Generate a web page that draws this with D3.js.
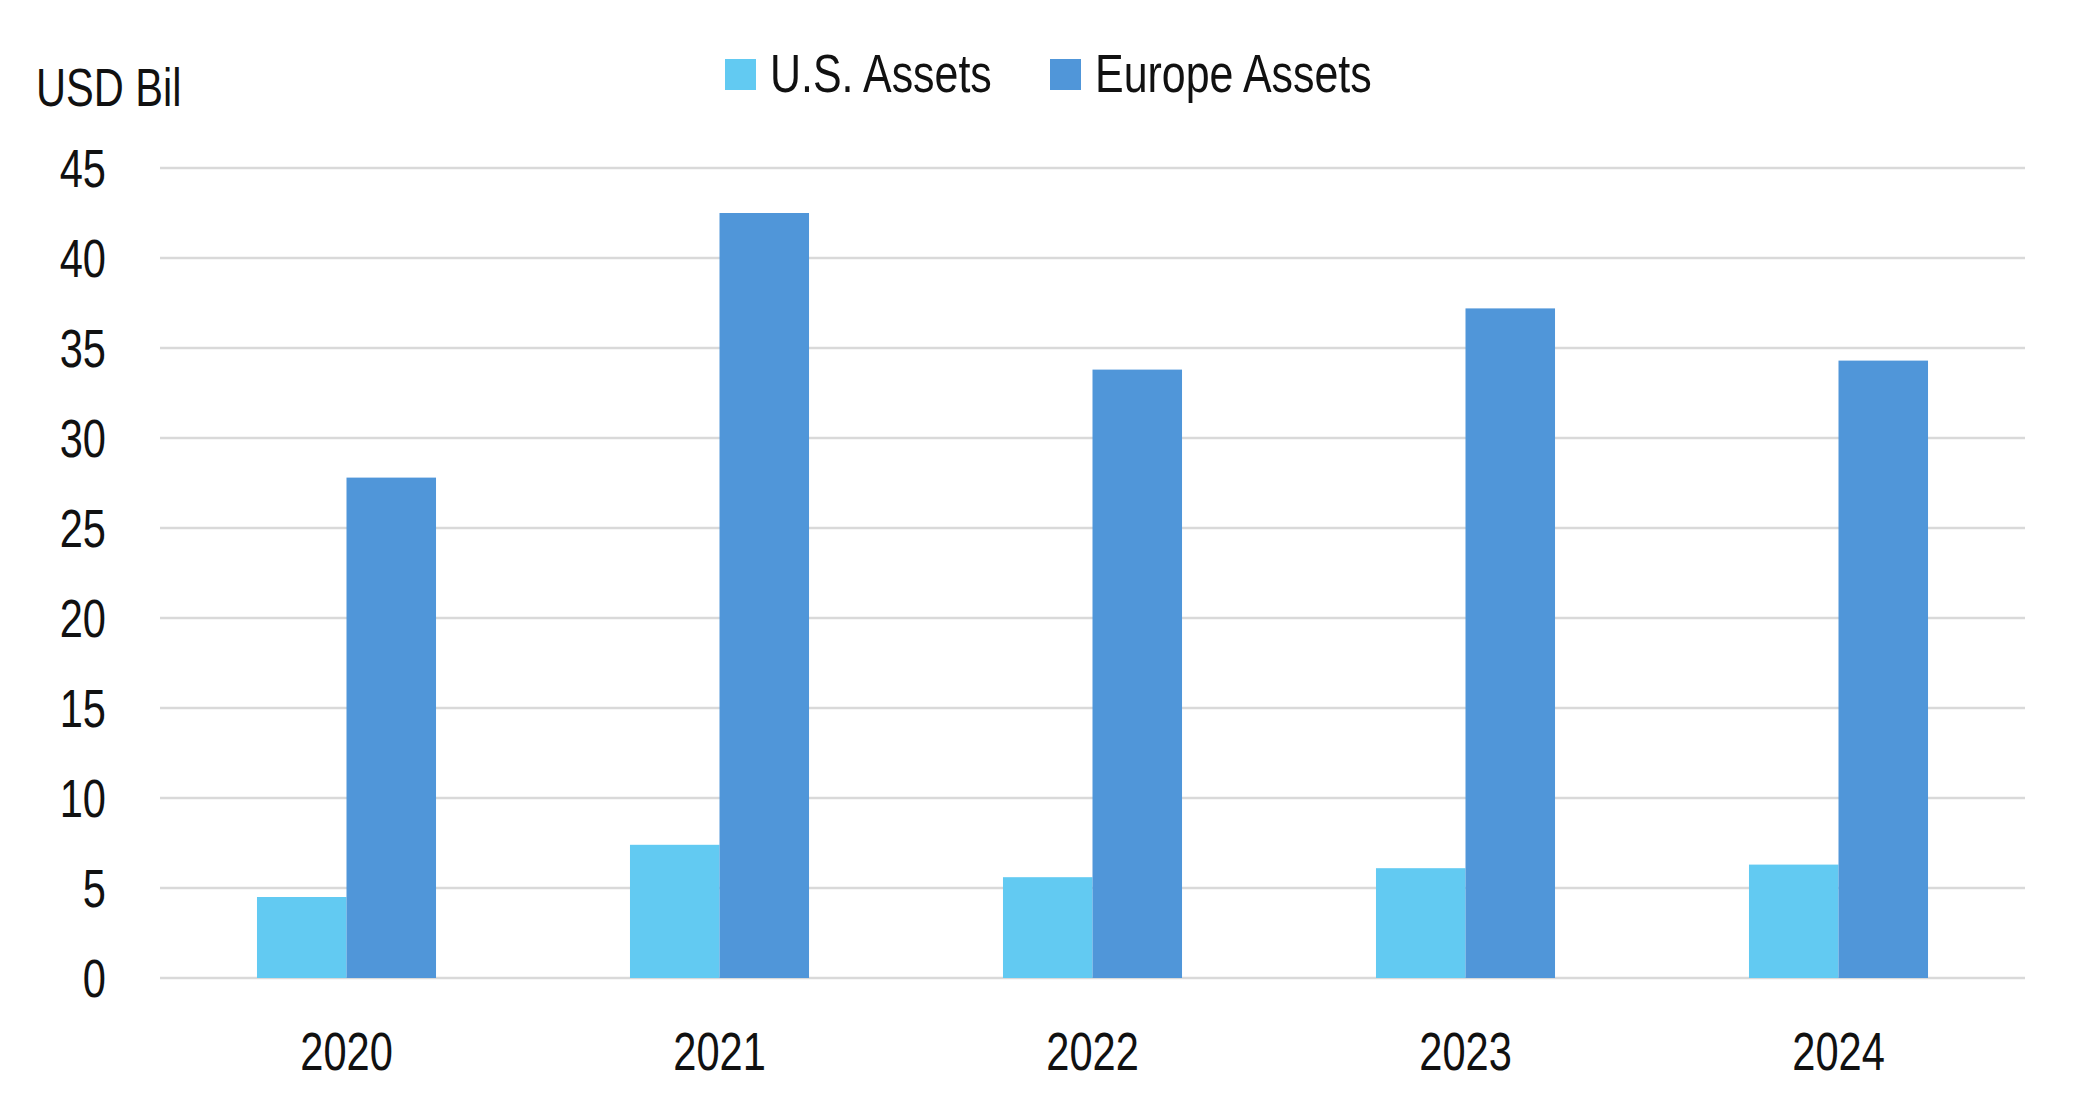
<!DOCTYPE html>
<html>
<head>
<meta charset="utf-8">
<script src="https://cdn.jsdelivr.net/npm/d3@7"></script>
<style>
  body { margin: 0; background: #fff; }
  text { font-family: "Liberation Sans", Arial, sans-serif; fill: #111; }
</style>
</head>
<body>
<svg id="chart" width="2079" height="1105"></svg>
<script>
// Assets by year, USD Bil

var years = ["2020", "2021", "2022", "2023", "2024"];
var usAssets = [4.5, 7.4, 5.6, 6.1, 6.3];
var europeAssets = [27.8, 42.5, 33.8, 37.2, 34.3];
var seriesNames = ["U.S. Assets", "Europe Assets"];
var seriesColors = ["#62caf2", "#5096d9"];
var yTicks = [0, 5, 10, 15, 20, 25, 30, 35, 40, 45];

var svg = d3.select("#chart");
var plotLeft = 160, plotRight = 2025, plotTop = 168, plotBottom = 978;
var squeeze = 0.77; // condensed look for the text

var x = d3.scaleBand().domain(years).range([plotLeft, plotRight]);
var x1 = d3.scaleBand()
  .domain(seriesNames)
  .range([0, x.bandwidth() * 0.48]);
var y = d3.scaleLinear().domain([0, 45]).range([plotBottom, plotTop]);

function place(px, py, s) {
  return "translate(" + px + "," + py + ") scale(" + (s || squeeze) + ",1)";
}

// gridlines
svg.append("g")
  .selectAll("line")
  .data(yTicks)
  .enter()
  .append("line")
  .attr("x1", plotLeft)
  .attr("x2", plotRight)
  .attr("y1", function (d) { return y(d); })
  .attr("y2", function (d) { return y(d); })
  .attr("stroke", "#d9d9d9")
  .attr("stroke-width", 2.5);

// y tick labels
svg.append("g")
  .selectAll("text")
  .data(yTicks)
  .enter()
  .append("text")
  .attr("transform", function (d) { return place(106, y(d) + 19); })
  .attr("text-anchor", "end")
  .attr("font-size", 54)
  .text(function (d) { return d; });

// bars
var rows = years.map(function (yr, i) {
  return { year: yr, values: [usAssets[i], europeAssets[i]] };
});

var groups = svg.append("g")
  .selectAll("g")
  .data(rows)
  .enter()
  .append("g")
  .attr("transform", function (d) {
    return "translate(" + (x(d.year) + x.bandwidth() * 0.26) + ",0)";
  });

groups.selectAll("rect")
  .data(function (d) {
    return d.values.map(function (v, j) { return { name: seriesNames[j], value: v, idx: j }; });
  })
  .enter()
  .append("rect")
  .attr("x", function (d) { return x1(d.name); })
  .attr("width", x1.bandwidth())
  .attr("y", function (d) { return y(d.value); })
  .attr("height", function (d) { return y(0) - y(d.value); })
  .attr("fill", function (d) { return seriesColors[d.idx]; });

// x labels
svg.append("g")
  .selectAll("text")
  .data(years)
  .enter()
  .append("text")
  .attr("transform", function (d) { return place(x(d) + x.bandwidth() / 2, 1070); })
  .attr("text-anchor", "middle")
  .attr("font-size", 54)
  .text(function (d) { return d; });

// axis title
svg.append("text")
  .attr("transform", place(36, 106))
  .attr("font-size", 54)
  .text("USD Bil");

// legend
var legendX = [725, 1050];
var legend = svg.append("g")
  .selectAll("g")
  .data(seriesNames)
  .enter()
  .append("g")
  .attr("transform", function (d, i) { return "translate(" + legendX[i] + ",0)"; });

legend.append("rect")
  .attr("x", 0)
  .attr("y", 59)
  .attr("width", 31)
  .attr("height", 31)
  .attr("fill", function (d, i) { return seriesColors[i]; });

legend.append("text")
  .attr("transform", place(45, 92, 0.795))
  .attr("font-size", 54)
  .text(function (d) { return d; });
</script>
</body>
</html>
